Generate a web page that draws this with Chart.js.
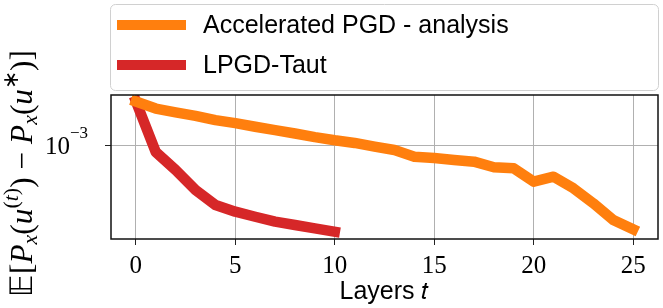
<!DOCTYPE html>
<html>
<head>
<meta charset="utf-8">
<script src="https://cdn.jsdelivr.net/npm/chart.js@4/dist/chart.umd.min.js"></script>
<style>
  html, body { margin: 0; padding: 0; background: #fff; }
  #wrap { width: 663px; height: 308px; }
</style>
</head>
<body>
<div id="wrap"><canvas id="chart" width="663" height="308"></canvas></div>
<script>
// layers t and the two error curves (log scale)
const layersPgd = [0, 1, 2, 3, 4, 5, 6, 7, 8, 9, 10, 11, 12, 13, 14, 15, 16, 17, 18, 19, 20, 21, 22, 23, 24, 25];
const pgdAnalysis = [1.87e-3, 1.69e-3, 1.60e-3, 1.52e-3, 1.43e-3, 1.37e-3, 1.30e-3, 1.24e-3, 1.18e-3, 1.12e-3,
                     1.07e-3, 1.03e-3, 9.76e-4, 9.30e-4, 8.45e-4, 8.29e-4, 8.06e-4, 7.87e-4, 7.26e-4, 7.15e-4,
                     5.90e-4, 6.34e-4, 5.36e-4, 4.32e-4, 3.40e-4, 2.97e-4];
const layersTaut = [0, 1, 2, 3, 4, 5, 6, 7, 8, 9, 10];
const lpgdTaut = [1.88e-3, 9.04e-4, 6.98e-4, 5.23e-4, 4.22e-4, 3.83e-4, 3.56e-4, 3.32e-4, 3.16e-4, 3.01e-4, 2.87e-4];
const xTicks = [0, 5, 10, 15, 20, 25];
const yTicks = [1e-3];
const yTickText = [['10', '−3']];
const seriesNames = ['Accelerated PGD - analysis', 'LPGD-Taut'];

const toPoints = (xs, ys) => xs.map((x, i) => ({ x: x, y: ys[i] }));

// y label E[P_x(u^(t)) - P_x(u*)] as pieces: text, italic, size factor, shift
const yLabelParts = [
  ['𝔼', false, 1, 0], ['[', false, 1, 0],
  ['P', true, 1, 0], ['x', true, 0.7, 6], ['(', false, 1, 0], ['u', true, 1, 0],
  ['(', false, 0.7, -10], ['t', true, 0.7, -10], [')', false, 0.7, -10], [')', false, 1, 0],
  [' − ', false, 1, 0],
  ['P', true, 1, 0], ['x', true, 0.7, 6], ['(', false, 1, 0], ['u', true, 1, 0],
  ['∗', false, 0.7, -10], [')', false, 1, 0], [']', false, 1, 0]
];

const yTitle = {
  id: 'yTitle',
  afterDraw(chart) {
    const ctx = chart.ctx;
    const base = 26;
    const fontFor = (p, s) => (p[1] ? 'italic ' : '') + (s * p[2]) + 'px "Liberation Serif"';
    ctx.save();
    let total = 0;
    yLabelParts.forEach(p => { ctx.font = fontFor(p, base); total += ctx.measureText(p[0]).width; });
    const size = base * 247 / total;
    const k = size / base;
    ctx.translate(24, 297);
    ctx.rotate(-Math.PI / 2);
    ctx.fillStyle = '#000';
    ctx.textBaseline = 'middle';
    ctx.textAlign = 'left';
    let x = 0;
    yLabelParts.forEach(p => {
      ctx.font = fontFor(p, size);
      ctx.fillText(p[0], x, p[3] * k);
      x += ctx.measureText(p[0]).width;
    });
    ctx.restore();
  }
};

// y tick labels as 10 with a raised exponent
const yTickLabels = {
  id: 'yTickLabels',
  afterDraw(chart) {
    const sc = chart.scales.y;
    const ctx = chart.ctx;
    ctx.save();
    ctx.fillStyle = '#000';
    ctx.textBaseline = 'alphabetic';
    ctx.textAlign = 'right';
    yTicks.forEach((v, i) => {
      const y = sc.getPixelForValue(v);
      const right = sc.right - 23;
      ctx.font = '17px "Liberation Serif"';
      const w = ctx.measureText(yTickText[i][1]).width;
      ctx.fillText(yTickText[i][1], right, y - 7);
      ctx.font = '25px "Liberation Serif"';
      ctx.fillText(yTickText[i][0], right - w, y + 9);
    });
    ctx.restore();
  }
};

// legend box drawn like matplotlib's
const legendBox = {
  id: 'legendBox',
  afterDraw(chart) {
    const ctx = chart.ctx;
    ctx.save();
    ctx.beginPath();
    ctx.roundRect(110.5, 4.5, 548, 86, 5);
    ctx.fillStyle = 'rgba(255,255,255,0.8)';
    ctx.fill();
    ctx.strokeStyle = '#d0d0d0';
    ctx.lineWidth = 1;
    ctx.stroke();
    chart.data.datasets.forEach((ds, i) => {
      const y = 25 + 40 * i;
      ctx.beginPath();
      ctx.moveTo(117, y);
      ctx.lineTo(186, y);
      ctx.strokeStyle = ds.borderColor;
      ctx.lineWidth = 10;
      ctx.lineCap = 'butt';
      ctx.stroke();
      ctx.fillStyle = '#000';
      ctx.font = '25px "Liberation Sans"';
      ctx.textBaseline = 'middle';
      ctx.textAlign = 'left';
      ctx.fillText(ds.label, 203, y + 1);
    });
    ctx.restore();
  }
};

// black frame round the axes
const frame = {
  id: 'frame',
  afterDatasetsDraw(chart) {
    const a = chart.chartArea;
    const ctx = chart.ctx;
    ctx.save();
    ctx.strokeStyle = '#111';
    ctx.lineWidth = 1.5;
    ctx.strokeRect(a.left, a.top, a.right - a.left, a.bottom - a.top);
    ctx.restore();
  }
};

const ctx = document.getElementById('chart').getContext('2d');
const chart = new Chart(ctx, {
  type: 'line',
  data: {
    datasets: [
      {
        label: seriesNames[0],
        data: toPoints(layersPgd, pgdAnalysis),
        borderColor: '#ff7f0e',
        borderWidth: 10.5,
        borderJoinStyle: 'round',
        borderCapStyle: 'square',
        pointRadius: 0,
        tension: 0,
        clip: 0
      },
      {
        label: seriesNames[1],
        data: toPoints(layersTaut, lpgdTaut),
        borderColor: '#d62728',
        borderWidth: 10.5,
        borderJoinStyle: 'round',
        borderCapStyle: 'square',
        pointRadius: 0,
        tension: 0,
        clip: 0
      }
    ]
  },
  options: {
    responsive: false,
    animation: false,
    layout: { padding: { top: 95, right: 5, bottom: 0, left: 0 } },
    plugins: {
      legend: { display: false },
      tooltip: { enabled: false }
    },
    scales: {
      x: {
        type: 'linear',
        bounds: 'data',
        min: -1.25,
        max: 26.25,
        afterFit(scale) { scale.height = 69; },
        afterBuildTicks(scale) { scale.ticks = xTicks.map(v => ({ value: v })); },
        border: { display: false },
        grid: { color: '#b0b0b0', lineWidth: 1, tickColor: '#222', tickLength: 6 },
        ticks: {
          color: '#000',
          padding: 6,
          maxRotation: 0,
          font: { family: '"Liberation Serif"', size: 25 },
          callback: v => String(v)
        },
        title: {
          display: true,
          text: 'Layers 𝑡',
          color: '#000',
          font: { family: '"Liberation Sans"', size: 25 },
          padding: { top: 0, bottom: 1 }
        }
      },
      y: {
        type: 'logarithmic',
        bounds: 'data',
        min: 2.585e-4,
        max: 2.054e-3,
        afterFit(scale) { scale.width = 111; },
        afterBuildTicks(scale) { scale.ticks = yTicks.map(v => ({ value: v })); },
        border: { display: false },
        grid: { color: '#b0b0b0', lineWidth: 1, tickColor: '#222', tickLength: 6 },
        ticks: { display: false },
        title: { display: false }
      }
    }
  },
  plugins: [frame, legendBox, yTitle, yTickLabels]
});
</script>
</body>
</html>
